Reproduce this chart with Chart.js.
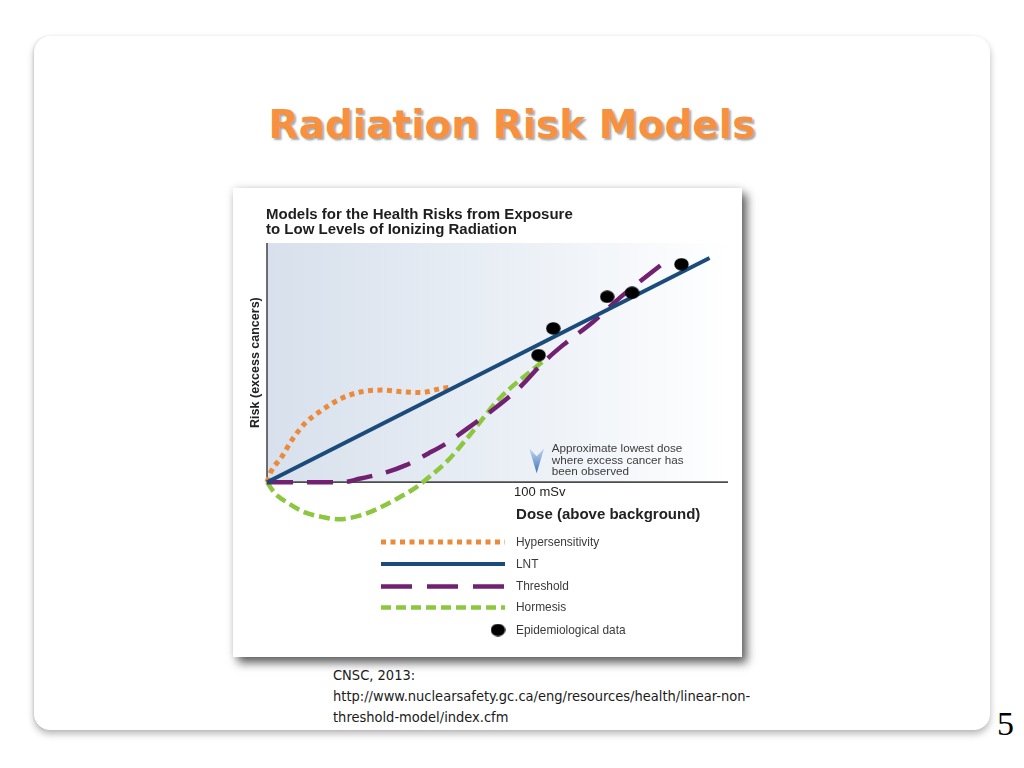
<!DOCTYPE html>
<html>
<head>
<meta charset="utf-8">
<title>Radiation Risk Models</title>
<script src="https://cdn.jsdelivr.net/npm/chart.js@4.4.1/dist/chart.umd.min.js"></script>
<style>
  html, body { margin: 0; padding: 0; background: #fff; }
  body { width: 1024px; height: 768px; position: relative; overflow: hidden; }
  .slide {
    position: absolute; left: 34px; top: 36px; width: 956px; height: 694px;
    border-radius: 16px; background: #fff;
    box-shadow: 0 4px 7px rgba(0,0,0,0.28), -1px 0 2px rgba(0,0,0,0.08);
  }
  .title {
    position: absolute; left: 0; width: 1024px; top: 100px; text-align: center;
    font-family: "DejaVu Sans", sans-serif; font-weight: bold; font-size: 39px;
    color: #f7913f; text-shadow: 2px 2px 2px rgba(0,0,0,0.35); line-height: 50px;
  }
  .figure {
    position: absolute; left: 233px; top: 188px; width: 509px; height: 469px; background: #fff;
    box-shadow: 5px 6px 9px rgba(0,0,0,0.6), 0 0 8px rgba(0,0,0,0.12);
  }
  .caption {
    position: absolute; left: 333px; top: 665px;
    font-family: "DejaVu Sans Condensed", "DejaVu Sans", sans-serif; font-size: 14.5px;
    line-height: 21px; color: #1a1a1a;
  }
  .pagenum {
    position: absolute; left: 997px; top: 704px;
    font-family: "Liberation Serif", serif; font-size: 34px; line-height: 40px; color: #000;
  }
</style>
</head>
<body>
<div class="slide"></div>
<div class="title">Radiation Risk Models</div>
<div class="figure"><canvas id="riskChart" width="509" height="469"></canvas></div>
<div class="caption">CNSC, 2013:<br>http://www.nuclearsafety.gc.ca/eng/resources/health/linear-non-<br>threshold-model/index.cfm</div>
<div class="pagenum">5</div>

<script>
// 모델별 곡선 데이터 (x: 선량, y: 위험도, 임의 단위)
const hyperDose = [0, 0.7, 3.2, 5.4, 8.3, 11.9, 16.2, 20.5, 24.8, 29.2, 33.5, 37.8, 39.5];
const hyperRisk = [0, 3.8, 10.6, 17.6, 24.7, 30.1, 35.1, 37.8, 38.5, 37.8, 37.5, 39.2, 39.6];

const lntDose = [0, 96];
const lntRisk = [0, 93.7];

const thresholdDose = [0, 16.5, 20, 26, 30, 35, 39.3, 43.5, 49.5, 55, 59.9, 64.2, 70.7, 77.2, 81.3, 86.3];
const thresholdRisk = [0, 0, 1.4, 4.2, 7, 12, 16.7, 22.5, 31, 40, 50, 57.3, 67, 78.2, 84.5, 92];

const hormesisDose = [0, 1.7, 4.6, 8.2, 11.9, 15.4, 20.5, 24.9, 28.4, 32.1, 34.9, 39.3, 43.6, 50.5, 59.9];
const hormesisRisk = [0, -4.6, -8.8, -12.6, -14.5, -15.5, -13.8, -10.3, -6.7, -2.5, 1.7, 9.2, 18.8, 35.1, 50.6];

// 역학 데이터 점
const epiDose = [58.9, 62.1, 73.8, 79.2, 89.9];
const epiRisk = [53.1, 64.3, 77.5, 79.2, 91.1];

const legendLabels = ['Hypersensitivity', 'LNT', 'Threshold', 'Hormesis', 'Epidemiological data'];

const chartTitle = ['Models for the Health Risks from Exposure', 'to Low Levels of Ionizing Radiation'];
const yTitle = 'Risk (excess cancers)';
const xTitle = 'Dose (above background)';
const doseMark = '100 mSv';
const noteLines = ['Approximate lowest dose', 'where excess cancer has', 'been observed'];

// 색상
const COLORS = {
    hyper: '#ec8a3c',
    lnt: '#1b4b7b',
    threshold: '#722071',
    hormesis: '#8dc63f',
    epi: '#000000'
};

function zip(xs, ys) {
    return xs.map((x, i) => ({ x: x, y: ys[i] }));
}

// 타원형 데이터 점 (원본 이미지가 약간 옆으로 넓음)
function makeEllipse() {
    const c = document.createElement('canvas');
    c.width = 15; c.height = 13;
    const g = c.getContext('2d');
    g.fillStyle = COLORS.epi;
    g.beginPath();
    g.ellipse(7.5, 6.5, 7.2, 6.2, 0, 0, Math.PI * 2);
    g.fill();
    return c;
}
const dotImage = makeEllipse();

// 배경 그라데이션 + 축
const backgroundPlugin = {
    id: 'plotBackground',
    beforeDatasetsDraw(chart) {
        const { ctx, scales: { x, y } } = chart;
        const x0 = x.getPixelForValue(0), x1 = x.getPixelForValue(100);
        const yTop = y.getPixelForValue(100), y0 = y.getPixelForValue(0);
        ctx.save();
        const grad = ctx.createLinearGradient(x0, 0, x1, 0);
        grad.addColorStop(0, '#d7e0ec');
        grad.addColorStop(0.55, '#ebf0f6');
        grad.addColorStop(1, '#ffffff');
        ctx.fillStyle = grad;
        ctx.fillRect(x0, yTop, x1 - x0, y0 - yTop);

        ctx.strokeStyle = '#4d4d4d';
        ctx.lineWidth = 1.6;
        ctx.beginPath();
        ctx.moveTo(x0, yTop);
        ctx.lineTo(x0, y0);
        ctx.lineTo(x1, y0);
        ctx.stroke();
        ctx.restore();
    }
};

// 제목, 축 제목, 주석, 범례
const labelsPlugin = {
    id: 'figureLabels',
    afterDraw(chart) {
        const { ctx, scales: { x, y } } = chart;
        const x0 = x.getPixelForValue(0);
        const y0 = y.getPixelForValue(0);
        ctx.save();
        ctx.textBaseline = 'middle';
        ctx.textAlign = 'left';

        // 그림 제목
        ctx.fillStyle = '#1e1e1e';
        ctx.font = 'bold 15px "Liberation Sans", Arial, sans-serif';
        ctx.fillText(chartTitle[0], x0 - 1, 27);
        ctx.fillText(chartTitle[1], x0 - 1, 42);

        // y축 제목
        ctx.save();
        ctx.translate(x0 - 11.5, y.getPixelForValue(50));
        ctx.rotate(-Math.PI / 2);
        ctx.textAlign = 'center';
        ctx.font = 'bold 12.5px "Liberation Sans", Arial, sans-serif';
        ctx.fillStyle = '#222';
        ctx.fillText(yTitle, 0, 0);
        ctx.restore();

        // 100 mSv, x축 제목
        const markX = x.getPixelForValue(53.6);
        ctx.fillStyle = '#222';
        ctx.font = '13px "Liberation Sans", Arial, sans-serif';
        ctx.fillText(doseMark, markX, y0 + 10);
        ctx.font = 'bold 15px "Liberation Sans", Arial, sans-serif';
        ctx.fillText(xTitle, markX + 2, y0 + 33);

        // 주석 화살표
        const ax = x.getPixelForValue(58.5);
        const aTop = y0 - 34, aBot = y0 - 9;
        const ag = ctx.createLinearGradient(0, aTop, 0, aBot);
        ag.addColorStop(0, '#c7d8ef');
        ag.addColorStop(1, '#3f73bd');
        ctx.fillStyle = ag;
        ctx.beginPath();
        ctx.moveTo(ax - 7.5, aTop);
        ctx.lineTo(ax, aTop + 8);
        ctx.lineTo(ax + 7.5, aTop);
        ctx.lineTo(ax, aBot);
        ctx.closePath();
        ctx.fill();

        ctx.fillStyle = '#3c3c3c';
        ctx.font = '11.7px "Liberation Sans", Arial, sans-serif';
        noteLines.forEach((t, i) => ctx.fillText(t, ax + 15, y0 - 33 + i * 11.5));

        // 범례
        const lx0 = 148, lx1 = 272, textX = 283;
        const rows = [354, 376, 398.5, 419.5, 442];
        const metas = [4, 1, 2, 3].map(i => chart.data.datasets[i]);
        metas.forEach((ds, i) => {
            ctx.save();
            ctx.strokeStyle = ds.borderColor;
            ctx.lineWidth = ds.borderWidth;
            ctx.lineCap = 'butt';
            ctx.setLineDash(ds.legendDash || []);
            ctx.beginPath();
            ctx.moveTo(lx0, rows[i]);
            ctx.lineTo(lx1, rows[i]);
            ctx.stroke();
            ctx.restore();
        });
        ctx.drawImage(dotImage, 265 - 7.5, rows[4] - 6.5);

        ctx.fillStyle = '#3a3a3a';
        ctx.font = '13.5px "Liberation Sans", Arial, sans-serif';
        legendLabels.forEach((t, i) => {
            ctx.save();
            ctx.translate(textX, rows[i]);
            ctx.scale(0.88, 1);
            ctx.fillText(t, 0, 0);
            ctx.restore();
        });
        ctx.restore();
    }
};

function initRiskChart(canvasId) {
    const ctx = document.getElementById(canvasId)?.getContext('2d');
    if (!ctx) return null;

    Chart.defaults.font.family = '"Liberation Sans", Arial, sans-serif';

    return new Chart(ctx, {
        type: 'scatter',
        data: {
            datasets: [
                {
                    label: legendLabels[4], data: zip(epiDose, epiRisk), order: 0,
                    pointStyle: dotImage, pointRadius: 7, showLine: false
                },
                {
                    label: legendLabels[1], data: zip(lntDose, lntRisk), order: 1,
                    showLine: true, pointRadius: 0, borderColor: COLORS.lnt, borderWidth: 4
                },
                {
                    label: legendLabels[2], data: zip(thresholdDose, thresholdRisk), order: 2,
                    showLine: true, pointRadius: 0, borderColor: COLORS.threshold, borderWidth: 4.5,
                    borderDash: [26, 14], legendDash: [31, 15], cubicInterpolationMode: 'monotone'
                },
                {
                    label: legendLabels[3], data: zip(hormesisDose, hormesisRisk), order: 3,
                    showLine: true, pointRadius: 0, borderColor: COLORS.hormesis, borderWidth: 4.5,
                    borderDash: [11, 5], legendDash: [10, 5], cubicInterpolationMode: 'monotone'
                },
                {
                    label: legendLabels[0], data: zip(hyperDose, hyperRisk), order: 4,
                    showLine: true, pointRadius: 0, borderColor: COLORS.hyper, borderWidth: 5,
                    borderDash: [5, 4.5], legendDash: [5, 4.5], cubicInterpolationMode: 'monotone'
                }
            ]
        },
        options: {
            responsive: false,
            animation: false,
            events: [],
            clip: false,
            layout: { padding: { left: 34, right: 14, top: 55, bottom: 127 } },
            plugins: { legend: { display: false }, tooltip: { enabled: false }, title: { display: false } },
            scales: {
                x: { type: 'linear', min: 0, max: 100, display: false },
                y: { type: 'linear', min: -20, max: 100, display: false }
            }
        },
        plugins: [backgroundPlugin, labelsPlugin]
    });
}

initRiskChart('riskChart');
</script>
</body>
</html>
